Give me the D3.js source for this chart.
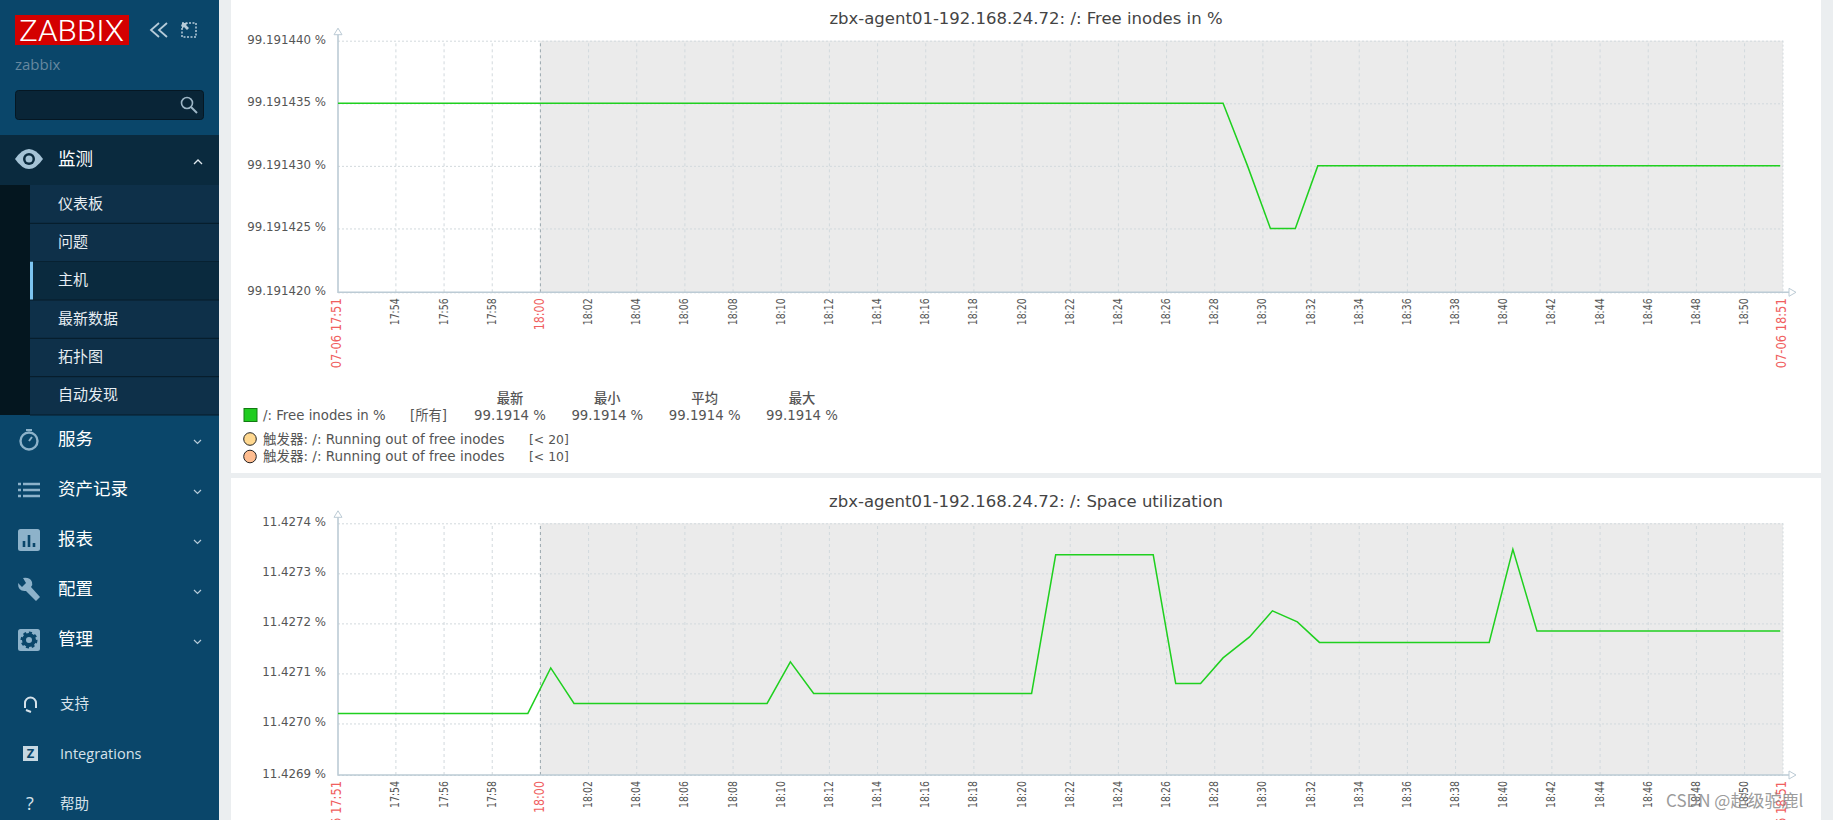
<!DOCTYPE html>
<html>
<head>
<meta charset="utf-8">
<script src="https://cdn.jsdelivr.net/npm/d3@7"></script>
<style>
  html, body { margin: 0; padding: 0; background: #ebeef0; overflow: hidden; }
  svg { display: block; }
  .graph text { font-family: "DejaVu Sans", "Noto Sans CJK SC", sans-serif; }
  .side text { font-family: "Noto Sans CJK SC", "Noto Sans", sans-serif; }
</style>
</head>
<body>
<script>
// chart data
const parseTime = d3.timeParse('%H:%M:%S');
const startTime = '17:51:37';
const endTime = '18:51:37';
const dayStart = '18:00:00';

const inodeTimes = ['17:51:37', '18:28:22', '18:29:23', '18:30:20', '18:31:22', '18:32:18', '18:51:30'];
const inodeValues = [99.191435, 99.191435, 99.19143, 99.191425, 99.191425, 99.19143, 99.19143];
const inodeTicks = [99.1914199, 99.191425, 99.19143, 99.191435, 99.19144];

const spaceTimes = ['17:51:37', '17:59:30', '18:00:27', '18:01:25', '18:09:26', '18:10:24', '18:11:22',
  '18:20:25', '18:21:25', '18:25:28', '18:26:24', '18:27:26', '18:28:22', '18:29:28', '18:30:25',
  '18:31:27', '18:32:22', '18:39:25', '18:40:24', '18:41:24', '18:51:30'];
const spaceValues = [11.42702, 11.42702, 11.427111, 11.42704, 11.42704, 11.427123, 11.42706,
  11.42706, 11.427337, 11.427337, 11.42708, 11.42708, 11.427131, 11.427173, 11.427225,
  11.427203, 11.427162, 11.427162, 11.427348, 11.427185, 11.427185];
const spaceTicks = [11.426897, 11.427, 11.4271, 11.4272, 11.4273, 11.4274];

const legendHeaders = ['最新', '最小', '平均', '最大'];
const legendStats = ['99.1914 %', '99.1914 %', '99.1914 %', '99.1914 %'];
const triggerLimits = ['[< 20]', '[< 10]'];
const triggerColors = ['#ffd890', '#ffbd90'];

const subMenu = ['仪表板', '问题', '主机', '最新数据', '拓扑图', '自动发现'];
const mainMenu = ['服务', '资产记录', '报表', '配置', '管理'];
const mainIcons = ['clock', 'list', 'bars', 'wrench', 'gear'];

// page constants
const [width, height] = [1833, 820];
const plotLeft = 338, plotRight = 1783;
const lineColor = '#1fd01f', gridColor = '#d2d9dd', axisColor = '#bccbd5';

const svg = d3.select('body').append('svg').attr('width', width).attr('height', height);

// white panels
svg.append('rect').attr('x', 231).attr('y', 0).attr('width', 1590).attr('height', 473).attr('fill', '#fff');
svg.append('rect').attr('x', 231).attr('y', 478).attr('width', 1590).attr('height', 342).attr('fill', '#fff');

const xScale = d3.scaleTime().domain([parseTime(startTime), parseTime(endTime)]).range([plotLeft, plotRight]);

function drawGraph(title, titleY, top, bottom, times, values, ticks, digits) {
  const g = svg.append('g').attr('class', 'graph');
  const yScale = d3.scaleLinear().domain(d3.extent(ticks)).range([bottom, top]);

  // working time zone
  g.append('rect')
    .attr('x', xScale(parseTime(dayStart))).attr('y', top)
    .attr('width', plotRight - xScale(parseTime(dayStart))).attr('height', bottom - top)
    .attr('fill', '#ebebeb');

  g.append('text').attr('x', 1026).attr('y', titleY).attr('text-anchor', 'middle')
    .attr('font-size', 16.5).attr('fill', '#444').text(title);

  // minute ticks, every 2 min
  const minuteTicks = d3.timeMinute.every(2).range(parseTime('17:52:00'), parseTime(endTime)).slice(1);
  const xAxis = d3.axisBottom(xScale).tickValues(minuteTicks).tickSize(top - bottom)
    .tickPadding(0).tickFormat(d3.timeFormat('%H:%M'));
  const gx = g.append('g').attr('transform', `translate(0,${bottom})`).call(xAxis);
  gx.select('.domain').remove();
  gx.selectAll('line').attr('stroke', gridColor).attr('stroke-dasharray', '3 3');
  gx.selectAll('text')
    .attr('transform', 'rotate(-90)').attr('text-anchor', 'end')
    .attr('x', -6).attr('y', 0).attr('dy', 0)
    .attr('font-size', 11.6).attr('textLength', 27).attr('lengthAdjust', 'spacingAndGlyphs')
    .attr('fill', '#555').attr('dominant-baseline', 'middle');
  gx.selectAll('.tick').filter(d => d.getTime() === parseTime(dayStart).getTime())
    .call(t => t.select('line').attr('stroke', '#9aa7ae'))
    .call(t => t.select('text').attr('font-size', 14).attr('textLength', 32).attr('fill', '#f06060'));

  const yAxis = d3.axisLeft(yScale).tickValues(ticks).tickSize(plotLeft - plotRight).tickPadding(0)
    .tickFormat(d => d.toFixed(digits) + ' %');
  const gy = g.append('g').attr('transform', `translate(${plotLeft},0)`).call(yAxis);
  gy.select('.domain').remove();
  gy.selectAll('line').attr('stroke', gridColor).attr('stroke-dasharray', '2 2');
  gy.selectAll('text').attr('x', -12).attr('dy', '0.2em').attr('font-size', 11.8).attr('fill', '#555')
    .attr('text-anchor', 'end');

  // right edge dotted line
  g.append('line').attr('x1', plotRight).attr('x2', plotRight).attr('y1', top).attr('y2', bottom)
    .attr('stroke', gridColor).attr('stroke-dasharray', '2 2');

  // axes with arrows
  g.append('path').attr('d', `M${plotLeft},${top - 12}V${bottom}H${plotRight + 12}`)
    .attr('fill', 'none').attr('stroke', axisColor).attr('stroke-width', 1.6);
  g.append('path').attr('d', `M${plotLeft - 4},${top - 6}L${plotLeft},${top - 12.5}L${plotLeft + 4},${top - 6}Z`)
    .attr('fill', '#fff').attr('stroke', axisColor);
  g.append('path').attr('d', `M${plotRight + 6},${bottom - 4}L${plotRight + 13},${bottom}L${plotRight + 6},${bottom + 4}Z`)
    .attr('fill', '#fff').attr('stroke', axisColor);

  // end labels
  const edges = [startTime, endTime];
  g.selectAll('text.edge').data(edges).enter().append('text').attr('class', 'edge')
    .attr('transform', d => `translate(${xScale(parseTime(d)) - 1},${bottom + 6}) rotate(-90)`)
    .attr('text-anchor', 'end').attr('dominant-baseline', 'middle')
    .attr('font-size', 14).attr('textLength', 70).attr('lengthAdjust', 'spacingAndGlyphs')
    .attr('fill', '#f06060')
    .text(d => '07-06 ' + d.slice(0, 5));

  // series
  const line = d3.line().x(d => xScale(parseTime(d[0]))).y(d => yScale(d[1]));
  g.append('path').datum(d3.zip(times, values)).attr('d', line)
    .attr('fill', 'none').attr('stroke', lineColor).attr('stroke-width', 1.5);
}

drawGraph('zbx-agent01-192.168.24.72: /: Free inodes in %', 24, 40.7, 292.3, inodeTimes, inodeValues, inodeTicks, 6);
drawGraph('zbx-agent01-192.168.24.72: /: Space utilization', 507, 523.3, 775, spaceTimes, spaceValues, spaceTicks, 4);

// legend of the first graph
const legend = svg.append('g').attr('class', 'graph').attr('font-size', 13.3).attr('fill', '#555');
const statX = d3.scalePoint().domain(legendHeaders).range([510, 802]);
legend.selectAll('text.head').data(legendHeaders).enter().append('text').attr('class', 'head')
  .attr('x', d => statX(d)).attr('y', 403).attr('text-anchor', 'middle').attr('font-weight', 500).text(d => d);
legend.selectAll('text.stat').data(legendStats).enter().append('text').attr('class', 'stat')
  .attr('x', (d, i) => statX(legendHeaders[i])).attr('y', 420).attr('text-anchor', 'middle').text(d => d);
legend.append('rect').attr('x', 244).attr('y', 408.5).attr('width', 13).attr('height', 13)
  .attr('fill', '#1fcc1f').attr('stroke', '#127a12');
legend.append('text').attr('x', 263).attr('y', 420).text('/: Free inodes in %');
legend.append('text').attr('x', 410).attr('y', 420).text('[所有]');
triggerLimits.forEach((limit, i) => {
  const y = 439 + i * 17.5;
  legend.append('circle').attr('cx', 250).attr('cy', y).attr('r', 6.3)
    .attr('fill', triggerColors[i]).attr('stroke', '#222');
  legend.append('text').attr('x', 263).attr('y', y + 4.5).attr('font-size', 13.5).text('触发器: /: Running out of free inodes');
  legend.append('text').attr('x', 529).attr('y', y + 4.5).attr('font-size', 12.4).text(limit);
});

// sidebar
const side = svg.append('g').attr('class', 'side');
side.append('rect').attr('width', 219).attr('height', height).attr('fill', '#0a466a');
side.append('rect').attr('x', 15).attr('y', 15).attr('width', 114).attr('height', 30).attr('fill', '#d40000');
side.append('text').attr('x', 19).attr('y', 41).attr('textLength', 105).attr('lengthAdjust', 'spacingAndGlyphs')
  .attr('font-size', 30).attr('fill', '#fff').style('font-family', 'Roboto').style('font-weight', 300).text('ZABBIX');
side.append('text').attr('x', 15).attr('y', 70).attr('font-size', 15).attr('fill', '#66889f')
  .style('font-family', '"Open Sans"').text('zabbix');
side.append('path').attr('d', 'M159,23l-8,7l8,7M167,23l-8,7l8,7').attr('fill', 'none').attr('stroke', '#b6cbd9').attr('stroke-width', 1.8);
side.append('rect').attr('x', 182).attr('y', 23).attr('width', 14).attr('height', 14).attr('fill', 'none')
  .attr('stroke', '#b6cbd9').attr('stroke-width', 1.5).attr('stroke-dasharray', '2 1.5');
side.append('path').attr('d', 'M182,23h6l-2,2l3,3l-2,2l-3,-3l-2,2z').attr('fill', '#b6cbd9');

side.append('rect').attr('x', 15.5).attr('y', 90.5).attr('width', 188).attr('height', 29).attr('rx', 3)
  .attr('fill', '#092537').attr('stroke', '#051723');
side.append('circle').attr('cx', 187).attr('cy', 103).attr('r', 5.5).attr('fill', 'none').attr('stroke', '#9db6c6').attr('stroke-width', 1.6);
side.append('line').attr('x1', 191).attr('y1', 107).attr('x2', 197).attr('y2', 113).attr('stroke', '#9db6c6').attr('stroke-width', 2);

// active section
side.append('rect').attr('y', 135).attr('width', 219).attr('height', 50).attr('fill', '#0a2a3e');
side.append('rect').attr('y', 185).attr('width', 30).attr('height', 230).attr('fill', '#04161f');
side.append('rect').attr('x', 30).attr('y', 185).attr('width', 189).attr('height', 230).attr('fill', '#0e3049');
side.append('path').attr('d', 'M15,159Q29,139 43,159Q29,179 15,159Z').attr('fill', '#a5c3d6');
side.append('circle').attr('cx', 29).attr('cy', 159).attr('r', 6).attr('fill', '#0a2a3e');
side.append('circle').attr('cx', 29).attr('cy', 159).attr('r', 3.5).attr('fill', '#a5c3d6');
side.append('text').attr('x', 58).attr('y', 165).attr('font-size', 17.5).attr('fill', '#fff').text('监测');
side.append('path').attr('d', 'M194,164l4,-4l4,4').attr('fill', 'none').attr('stroke', '#dfe8ee').attr('stroke-width', 1.3);

const rowY = d3.scaleLinear().domain([0, subMenu.length]).range([185, 415]);
subMenu.forEach((name, i) => {
  if (name === '主机') {
    side.append('rect').attr('x', 30).attr('y', rowY(i)).attr('width', 189).attr('height', rowY(i + 1) - rowY(i)).attr('fill', '#0a2a3e');
    side.append('rect').attr('x', 30).attr('y', rowY(i)).attr('width', 3).attr('height', rowY(i + 1) - rowY(i)).attr('fill', '#7cc4f0');
  }
  side.append('line').attr('x1', 30).attr('x2', 219).attr('y1', rowY(i + 1)).attr('y2', rowY(i + 1)).attr('stroke', '#061b28');
  side.append('text').attr('x', 58).attr('y', (rowY(i) + rowY(i + 1)) / 2 + 4.5).attr('font-size', 15).attr('fill', '#e6edf2').text(name);
});

const iconColor = '#8db2ca';
const icons = {
  clock: s => {
    s.append('circle').attr('r', 8.5).attr('cy', 1).attr('fill', 'none').attr('stroke', iconColor).attr('stroke-width', 2.4);
    s.append('path').attr('d', 'M-3,-10h6M0,1l3,-4').attr('fill', 'none').attr('stroke', iconColor).attr('stroke-width', 2);
  },
  list: s => {
    s.append('path').attr('d', 'M-11,-6h3M-11,0h3M-11,6h3M-6,-6h17M-6,0h17M-6,6h17').attr('fill', 'none').attr('stroke', iconColor).attr('stroke-width', 2.4);
  },
  bars: s => {
    s.append('rect').attr('x', -11).attr('y', -11).attr('width', 22).attr('height', 22).attr('rx', 2.5).attr('fill', iconColor);
    s.append('path').attr('d', 'M-5,7v-6M0,7v-12M5,7v-4').attr('stroke', '#0a466a').attr('stroke-width', 2.6);
  },
  wrench: s => {
    s.append('path').attr('d', 'M-11,-7l4,4l4,-4l-3,-5q7,-1 9,4q1,3 -1,5l9,10l-4,4l-10,-10q-8,1 -8,-8z').attr('fill', iconColor);
  },
  gear: s => {
    s.append('rect').attr('x', -11).attr('y', -11).attr('width', 22).attr('height', 22).attr('rx', 2.5).attr('fill', iconColor);
    s.append('circle').attr('r', 5).attr('fill', 'none').attr('stroke', '#0a466a').attr('stroke-width', 4);
    s.append('circle').attr('r', 7.2).attr('fill', 'none').attr('stroke', '#0a466a').attr('stroke-width', 2.6).attr('stroke-dasharray', '3 2.6');
  }
};

mainMenu.forEach((name, i) => {
  const y = 440 + i * 50;
  icons[mainIcons[i]](side.append('g').attr('transform', `translate(29,${y})`));
  side.append('text').attr('x', 58).attr('y', y + 5).attr('font-size', 17.5).attr('fill', '#fff').text(name);
  side.append('path').attr('d', `M194,${y}l3.5,3.5l3.5,-3.5`).attr('fill', 'none').attr('stroke', '#b6cbd9').attr('stroke-width', 1.2);
});

// bottom links
side.append('path').attr('d', 'M25,708v-5a5.5,5.5 0 0 1 11,0v5M26,710l5,2').attr('fill', 'none').attr('stroke', '#d6e2ea').attr('stroke-width', 2);
side.append('text').attr('x', 60).attr('y', 708.5).attr('font-size', 14.5).attr('fill', '#d6e2ea').text('支持');
side.append('rect').attr('x', 23).attr('y', 746).attr('width', 15).attr('height', 15).attr('fill', '#c7d8e2');
side.append('text').attr('x', 30.5).attr('y', 758).attr('text-anchor', 'middle').attr('font-size', 13).attr('font-weight', 700).attr('fill', '#0a466a').style('font-family', '"Open Sans"').text('Z');
side.append('text').attr('x', 60).attr('y', 759).attr('font-size', 14.5).attr('fill', '#d6e2ea').style('font-family', '"Open Sans"').text('Integrations');
side.append('text').attr('x', 30).attr('y', 810).attr('text-anchor', 'middle').attr('font-size', 18).attr('fill', '#d6e2ea').style('font-family', '"Open Sans"').text('?');
side.append('text').attr('x', 60).attr('y', 809).attr('font-size', 14.5).attr('fill', '#d6e2ea').text('帮助');

// watermark
svg.append('text').attr('x', 1666).attr('y', 807).attr('font-size', 17).attr('fill', '#8a8a8a').attr('opacity', 0.85)
  .style('font-family', '"Noto Sans CJK SC"').text('CSDN @超级驼鹿l');
</script>
</body>
</html>
